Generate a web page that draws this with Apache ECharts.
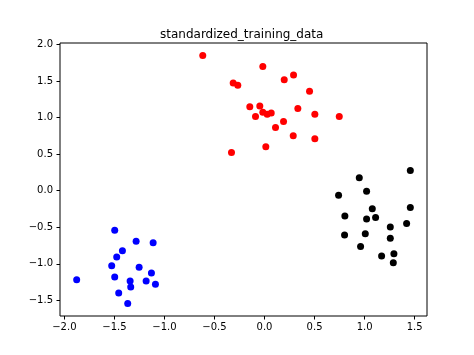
<!DOCTYPE html>
<html>
<head>
<meta charset="utf-8">
<script src="https://cdn.jsdelivr.net/npm/echarts@6/dist/echarts.min.js"></script>
<style>
html,body{margin:0;padding:0;background:#fff;}
#chart{width:474px;height:355px;}
</style>
</head>
<body>
<div id="chart"></div>
<script>
const titleText = "standardized_training_data";

const redX = [-0.617, -0.017, 0.29, 0.197, -0.313, -0.267, 0.45, -0.147, -0.047, 0.333, -0.017, 0.067, 0.027, 0.503, 0.747, -0.09, 0.19, 0.11, 0.287, 0.503, 0.013, -0.33];
const redY = [1.849, 1.699, 1.58, 1.517, 1.471, 1.44, 1.36, 1.148, 1.157, 1.123, 1.073, 1.061, 1.044, 1.044, 1.014, 1.014, 0.944, 0.862, 0.75, 0.71, 0.6, 0.521];

const blueX = [-1.497, -1.283, -1.113, -1.42, -1.477, -1.527, -1.253, -1.497, -1.13, -1.877, -1.343, -1.183, -1.09, -1.337, -1.457, -1.367];
const blueY = [-0.543, -0.693, -0.712, -0.821, -0.907, -1.026, -1.048, -1.18, -1.126, -1.217, -1.235, -1.235, -1.28, -1.317, -1.398, -1.544];

const blackX = [1.457, 0.947, 0.74, 1.02, 1.077, 1.457, 0.803, 1.02, 1.11, 1.42, 1.257, 0.80, 1.007, 1.257, 0.96, 1.293, 1.17, 1.287];
const blackY = [0.275, 0.175, -0.063, -0.007, -0.248, -0.229, -0.348, -0.389, -0.368, -0.45, -0.498, -0.607, -0.589, -0.652, -0.762, -0.862, -0.894, -0.985];

const xTicks = [-2.0, -1.5, -1.0, -0.5, 0.0, 0.5, 1.0, 1.5];
const yTicks = [-1.5, -1.0, -0.5, 0.0, 0.5, 1.0, 1.5, 2.0];

function pairs(xs, ys){ return xs.map((x,i)=>[x, ys[i]]); }
function fmt(v){ const s = Number(v).toFixed(1); return s.replace('-', '\u2212'); }

const allX = redX.concat(blueX, blackX), allY = redY.concat(blueY, blackY);
const xmin0 = Math.min(...allX), xmax0 = Math.max(...allX);
const ymin0 = Math.min(...allY), ymax0 = Math.max(...allY);
const xm = (xmax0 - xmin0) * 0.05, ym = (ymax0 - ymin0) * 0.05;

const chart = echarts.init(document.getElementById('chart'), null, {renderer:'canvas'});
const font = "'DejaVu Sans', sans-serif";
chart.setOption({
  animation:false,
  backgroundColor:'#fff',
  title:{text:titleText, left:155, top:24,
    textStyle:{fontFamily:font, fontSize:12, fontWeight:'normal', color:'#000'}},
  grid:{left:60, right:47, top:43, bottom:39, show:true, borderColor:'#000', borderWidth:1, backgroundColor:'transparent'},
  xAxis:{type:'value', min:xmin0 - xm, max:xmax0 + xm,
    axisLine:{show:false, onZero:false},
    splitLine:{show:false},
    axisTick:{show:true, inside:false, length:3.5, customValues:xTicks, lineStyle:{color:'#000'}},
    axisLabel:{customValues:xTicks, formatter:fmt, fontFamily:font, fontSize:10, color:'#000', margin:6}
  },
  yAxis:{type:'value', min:ymin0 - ym, max:ymax0 + ym,
    axisLine:{show:false, onZero:false},
    splitLine:{show:false},
    axisTick:{show:true, inside:false, length:3.5, customValues:yTicks, lineStyle:{color:'#000'}},
    axisLabel:{customValues:yTicks, formatter:fmt, fontFamily:font, fontSize:10, color:'#000', margin:7}
  },
  series:[
    {type:'scatter', data:pairs(redX, redY), symbolSize:7, itemStyle:{color:'#ff0000', opacity:1}},
    {type:'scatter', data:pairs(blueX, blueY), symbolSize:7, itemStyle:{color:'#0000ff', opacity:1}},
    {type:'scatter', data:pairs(blackX, blackY), symbolSize:7, itemStyle:{color:'#000000', opacity:1}}
  ]
});
</script>
</body>
</html>
